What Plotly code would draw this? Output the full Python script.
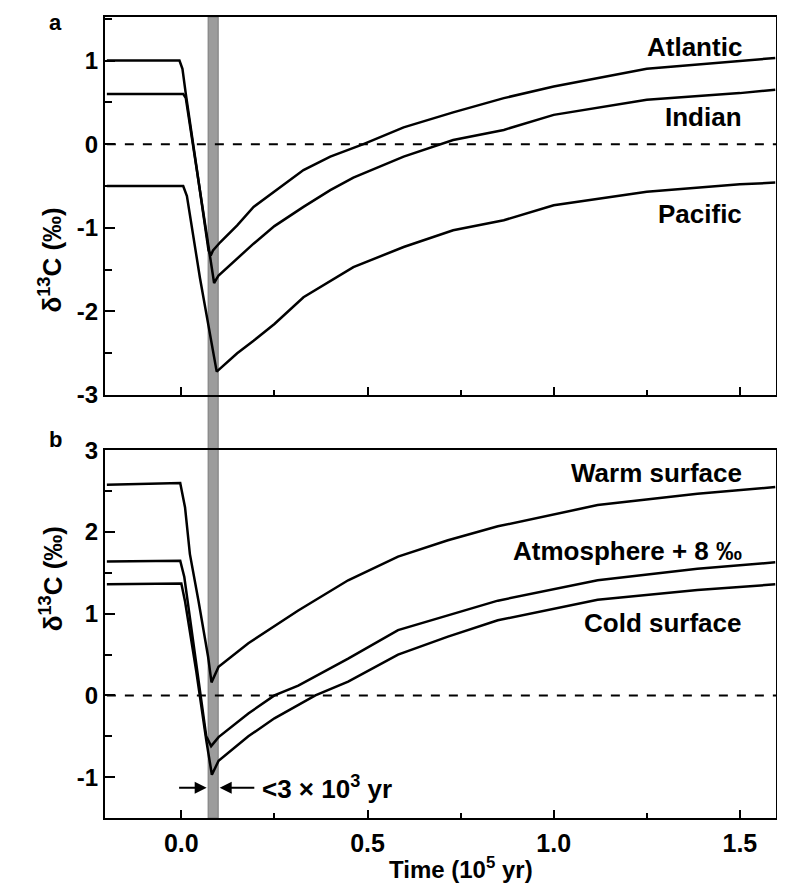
import plotly.graph_objects as go

# panel a - deep water d13C (per mil) vs time (10^5 yr)
t_atl = [-0.2, -0.005, 0.003, 0.012, 0.04, 0.073, 0.079, 0.085, 0.105, 0.15, 0.194, 0.25,
         0.328, 0.4, 0.489, 0.597, 0.73, 0.866, 1.0, 1.25, 1.5, 1.595]
v_atl = [1.0, 1.0, 0.9, 0.6, -0.25, -1.27, -1.33, -1.27, -1.17, -0.97, -0.75, -0.57,
         -0.31, -0.15, 0.0, 0.2, 0.38, 0.55, 0.69, 0.9, 0.99, 1.03]

t_ind = [-0.2, 0.005, 0.012, 0.04, 0.073, 0.088, 0.1, 0.15, 0.194, 0.25, 0.328, 0.4,
         0.462, 0.597, 0.73, 0.866, 1.0, 1.25, 1.5, 1.595]
v_ind = [0.6, 0.6, 0.55, -0.28, -1.27, -1.66, -1.57, -1.37, -1.19, -0.98, -0.75, -0.55,
         -0.4, -0.15, 0.05, 0.17, 0.35, 0.53, 0.61, 0.65]

t_pac = [-0.2, 0.005, 0.015, 0.05, 0.095, 0.105, 0.15, 0.194, 0.25, 0.328, 0.462, 0.597,
         0.73, 0.866, 1.0, 1.25, 1.5, 1.595]
v_pac = [-0.5, -0.5, -0.62, -1.6, -2.72, -2.68, -2.5, -2.35, -2.15, -1.83, -1.47, -1.23,
         -1.03, -0.91, -0.73, -0.57, -0.48, -0.46]

# panel b - surface / atmosphere
t_warm = [-0.2, -0.003, 0.01, 0.023, 0.046, 0.072, 0.081, 0.1, 0.18, 0.314, 0.448, 0.582,
          0.716, 0.85, 1.118, 1.386, 1.595]
v_warm = [2.58, 2.6, 2.3, 1.73, 1.16, 0.47, 0.16, 0.35, 0.64, 1.04, 1.41, 1.7,
          1.9, 2.07, 2.33, 2.47, 2.55]

t_atm = [-0.2, -0.003, 0.008, 0.04, 0.067, 0.08, 0.1, 0.18, 0.25, 0.314, 0.448, 0.582,
         0.716, 0.85, 1.118, 1.386, 1.595]
v_atm = [1.64, 1.65, 1.45, 0.4, -0.5, -0.62, -0.51, -0.22, 0.0, 0.12, 0.45, 0.8,
         0.98, 1.16, 1.41, 1.55, 1.63]

t_cold = [-0.2, 0.0, 0.01, 0.04, 0.067, 0.082, 0.1, 0.18, 0.25, 0.36, 0.448, 0.582,
          0.716, 0.85, 1.118, 1.386, 1.595]
v_cold = [1.36, 1.37, 1.15, 0.3, -0.55, -0.97, -0.8, -0.5, -0.28, 0.0, 0.17, 0.5,
          0.72, 0.92, 1.17, 1.29, 1.36]

x_ticks = [0.0, 0.5, 1.0, 1.5]
x_labels = ["0.0", "0.5", "1.0", "1.5"]
ya_ticks = [-3, -2, -1, 0, 1]
ya_labels = ["-3", "-2", "-1", "0", "1"]
yb_ticks = [-1, 0, 1, 2, 3]
yb_labels = ["-1", "0", "1", "2", "3"]

FONT = "Liberation Sans, Arial, sans-serif"
line = dict(color="black", width=2.5)

fig = go.Figure()
for t, v in [(t_atl, v_atl), (t_ind, v_ind), (t_pac, v_pac)]:
    fig.add_trace(go.Scatter(x=t, y=v, mode="lines", line=line, xaxis="x", yaxis="y"))
for t, v in [(t_warm, v_warm), (t_atm, v_atm), (t_cold, v_cold)]:
    fig.add_trace(go.Scatter(x=t, y=v, mode="lines", line=line, xaxis="x2", yaxis="y2"))

tickfont = dict(family=FONT, size=24, color="black", weight="bold")
xcommon = dict(range=[-0.205, 1.597], showline=True, mirror=True, linecolor="black", linewidth=2,
               ticks="inside", ticklen=8, tickwidth=2, tickcolor="black", automargin=False,
               tickvals=x_ticks, showgrid=False, zeroline=False,
               minor=dict(dtick=0.25, ticks="inside", ticklen=5, tickwidth=2, tickcolor="black"))
ycommon = dict(showline=True, mirror=True, linecolor="black", linewidth=2, automargin=False,
               ticks="inside", ticklen=10, tickwidth=2, tickcolor="black",
               showgrid=False, zeroline=False, tickfont=tickfont,
               minor=dict(dtick=0.5, ticks="inside", ticklen=7, tickwidth=2, tickcolor="black"))

# page body adds 8px around the plot, so the figure is sized to fit the window
fig.update_layout(
    width=769, height=876,
    margin=dict(l=97, r=1, t=9, b=66),
    paper_bgcolor="white", plot_bgcolor="white",
    showlegend=False,
    xaxis=dict(xcommon, anchor="y", showticklabels=False, tick0=0),
    xaxis2=dict(xcommon, anchor="y2", ticktext=x_labels, tickfont=dict(tickfont, size=25),
                ticklabelstandoff=2),
    yaxis=dict(ycommon, domain=[0.528, 1.0], range=[-3.0, 1.52], anchor="x",
               tickvals=ya_ticks, ticktext=ya_labels),
    yaxis2=dict(ycommon, domain=[0.0, 0.459], range=[-1.5, 3.0], anchor="x2",
                tickvals=yb_ticks, ticktext=yb_labels),
)

# shaded event band through both panels
fig.add_shape(type="rect", xref="x2", yref="paper", x0=0.072, x1=0.099, y0=0, y1=1,
              fillcolor="#9c9c9c", line=dict(color="#7a7a7a", width=1), layer="below")

# zero lines
fig.add_shape(type="line", xref="x", yref="y", x0=-0.2, x1=1.6, y0=0, y1=0,
              line=dict(color="black", width=2, dash="dash"))
fig.add_shape(type="line", xref="x2", yref="y2", x0=-0.2, x1=1.6, y0=0, y1=0,
              line=dict(color="black", width=2, dash="dash"))

afont = dict(family=FONT, size=26, color="black", weight="bold")
labels_a = [("Atlantic", 1.16), ("Indian", 0.32), ("Pacific", -0.83)]
for txt, y in labels_a:
    fig.add_annotation(x=1.51, y=y, xref="x", yref="y", text=txt, showarrow=False,
                       xanchor="right", font=afont)
labels_b = [("Warm surface", 2.72), ("Atmosphere + 8 ‰", 1.77), ("Cold surface", 0.89)]
for txt, y in labels_b:
    fig.add_annotation(x=1.51, y=y, xref="x2", yref="y2", text=txt, showarrow=False,
                       xanchor="right", font=afont)

# arrows marking the event duration
fig.add_annotation(x=0.068, y=-1.13, ax=-0.01, ay=-1.13, xref="x2", yref="y2",
                   axref="x2", ayref="y2", text="", showarrow=True,
                   arrowhead=2, arrowsize=1.2, arrowwidth=2, arrowcolor="black")
fig.add_annotation(x=0.103, y=-1.13, ax=0.2, ay=-1.13, xref="x2", yref="y2",
                   axref="x2", ayref="y2", text="", showarrow=True,
                   arrowhead=2, arrowsize=1.2, arrowwidth=2, arrowcolor="black")
fig.add_annotation(x=0.212, y=-1.13, xref="x2", yref="y2", text="&lt;3 × 10<sup>3</sup> yr",
                   showarrow=False, xanchor="left", font=afont)

# panel letters and axis titles
fig.add_annotation(x=-0.086, y=1.011, xref="paper", yref="paper", text="a", showarrow=False,
                   font=dict(afont, size=22))
fig.add_annotation(x=-0.086, y=0.473, xref="paper", yref="paper", text="b", showarrow=False,
                   font=dict(afont, size=22))
ytitle = "δ<sup>13</sup>C (‰)"
fig.add_annotation(x=-0.108, y=0.764, xref="paper", yref="paper", text=ytitle, textangle=-90,
                   showarrow=False, font=dict(afont, size=26))
fig.add_annotation(x=-0.108, y=0.23, xref="paper", yref="paper", text=ytitle, textangle=-90,
                   showarrow=False, font=dict(afont, size=26))
fig.add_annotation(x=0.53, y=-0.063, xref="paper", yref="paper", text="Time (10<sup>5</sup> yr)",
                   showarrow=False, yanchor="middle", font=dict(afont, size=24))

fig.write_html("out.html")
